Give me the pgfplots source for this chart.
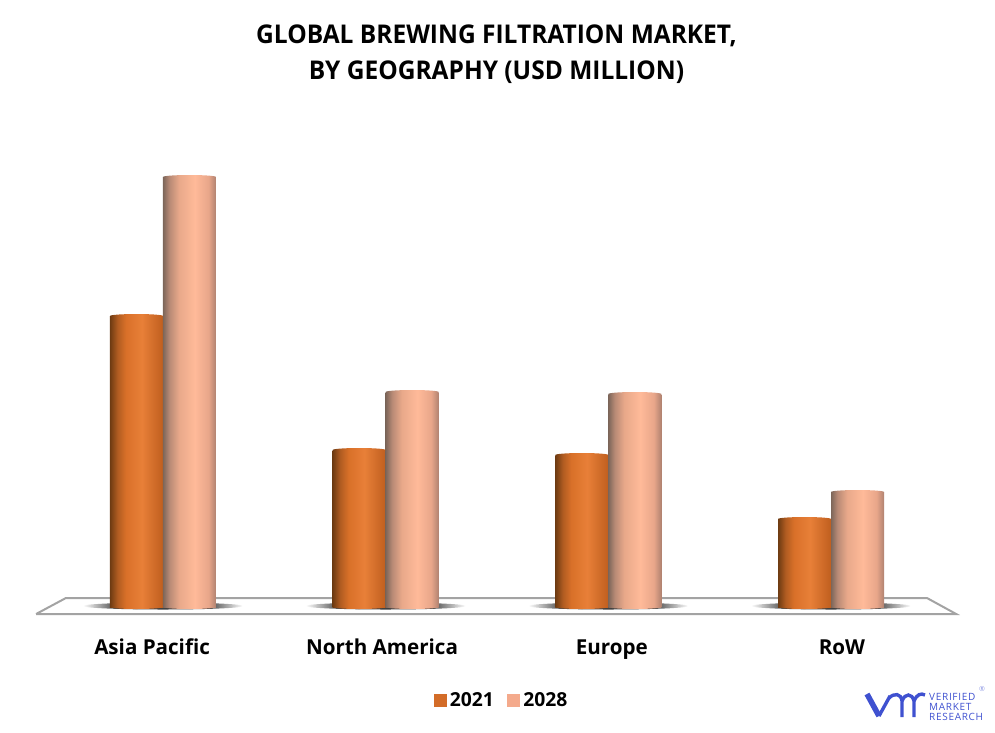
\documentclass[border=0pt]{standalone}
\usepackage{fontspec}
\setmainfont{Open Sans}
\newfontfamily\titlefont{Open Sans}[FakeStretch=0.95]
\newfontfamily\logofont{Open Sans}[LetterSpace=7]
\usepackage{pgfplots}
\usepackage{pgfplotstable}
\pgfplotsset{compat=1.18}

\definecolor{vmrblue}{RGB}{63,81,208}
\definecolor{c2021}{RGB}{211,108,40}
\definecolor{c2028}{RGB}{244,170,140}
\pgfdeclarehorizontalshading{barorange}{100bp}{
  rgb(0bp)=(0.43,0.23,0.07);
  rgb(25bp)=(0.43,0.23,0.07);
  rgb(32bp)=(0.69,0.36,0.13);
  rgb(40bp)=(0.85,0.44,0.16);
  rgb(55bp)=(0.91,0.50,0.22);
  rgb(75bp)=(0.75,0.37,0.12);
  rgb(100bp)=(0.75,0.37,0.12)}
\pgfdeclarehorizontalshading{barpeach}{100bp}{
  rgb(0bp)=(0.49,0.40,0.35);
  rgb(25bp)=(0.49,0.40,0.35);
  rgb(31bp)=(0.72,0.54,0.46);
  rgb(40bp)=(0.91,0.66,0.54);
  rgb(55bp)=(1.00,0.73,0.60);
  rgb(68bp)=(0.91,0.65,0.54);
  rgb(75bp)=(0.69,0.51,0.44);
  rgb(100bp)=(0.69,0.51,0.44)}
\pgfdeclarehorizontalshading{floorshadow}{100bp}{
  color(0bp)=(white);
  color(25bp)=(white);
  color(36bp)=(black!75);
  color(64bp)=(black!75);
  color(75bp)=(white);
  color(100bp)=(white)}

% rounded caps for the cylinders
\pgfdeclareplotmark{caporange}{\path[draw=none, shading=barorange] (-26.5pt,0pt) ellipse (26.5pt and 2pt);}
\pgfdeclareplotmark{cappeach}{\path[draw=none, shading=barpeach] (26.5pt,0pt) ellipse (26.5pt and 2pt);}

\pgfplotstableread{
x    y2021 y2028 base
0    291   430   0
1    157   215   0
2    152   213   0
3    88    115   0
}\bars

\pgfplotsset{
  orangebar/.style={forget plot, ybar, bar width=53pt, bar shift=-26.5pt, draw=none, shading=barorange},
  peachbar/.style={forget plot, ybar, bar width=53pt, bar shift=26.5pt, draw=none, shading=barpeach},
  capstyle/.style={forget plot, only marks, draw=none, mark options={draw=none, line width=0pt}},
}

\begin{document}
\begin{tikzpicture}
\useasboundingbox (0,-125pt) rectangle (995pt,607pt);
\begin{axis}[
    at={(0,0)}, anchor=south west,
    scale only axis,
    width=995pt, height=607pt,
    xmin=-0.732, xmax=3.7365,
    ymin=0, ymax=607,
    clip=false,
    axis line style={draw=none},
    major tick length=0pt,
    ytick=\empty,
    xtick={-0.049,0.9835,2.016,3.049},
    xticklabels={Asia Pacific,North America,Europe,RoW},
    xticklabel style={font=\fontsize{20.6}{24}\selectfont\bfseries, anchor=base, yshift=-47pt},
    title={GLOBAL BREWING FILTRATION MARKET,\\BY GEOGRAPHY (USD MILLION)},
    title style={at={(rel axis cs:0.4990,0.9015)}, anchor=center, align=center,
      font=\titlefont\fontsize{25.8}{36}\selectfont\bfseries},
    legend style={at={(rel axis cs:0.504,-0.154)}, anchor=center, draw=none, fill=none,
      legend columns=2, font=\fontsize{19.3}{22}\selectfont\bfseries,
      /tikz/every odd column/.append style={column sep=2pt},
      /tikz/every even column/.append style={column sep=11pt}},
]
% floor
\addplot[forget plot, sharp plot, no marks, draw=black!36, line width=2pt, line join=miter]
  coordinates {(-0.570,-7) (-0.436,9) (3.431,9) (3.562,-7) (-0.570,-7)};
% soft shadows under each group
\pgfplotsinvokeforeach{0,1,2,3}{
  \path[shading=floorshadow] (axis cs:#1,1) ellipse [x radius=80pt, y radius=3.5pt];
}
% one plot per bar, so that each bar gets its own cylinder shading
\addplot[orangebar] coordinates {(0,291)};
\addplot[peachbar]  coordinates {(0,430)};
\addplot[orangebar] coordinates {(1,157)};
\addplot[peachbar]  coordinates {(1,215)};
\addplot[orangebar] coordinates {(2,152)};
\addplot[peachbar]  coordinates {(2,213)};
\addplot[orangebar] coordinates {(3,88)};
\addplot[peachbar]  coordinates {(3,115)};
% caps
\addplot[capstyle, mark=caporange] table[x=x,y=base] {\bars};
\addplot[capstyle, mark=cappeach]  table[x=x,y=base] {\bars};
\addplot[capstyle, mark=caporange] table[x=x,y=y2021] {\bars};
\addplot[capstyle, mark=cappeach]  table[x=x,y=y2028] {\bars};
% legend
\addlegendimage{area legend, legend image code/.code={\fill[c2021] (0pt,-6pt) rectangle (12pt,6pt);}}
\addlegendentry{2021}
\addlegendimage{area legend, legend image code/.code={\fill[c2028] (0pt,-6pt) rectangle (12pt,6pt);}}
\addlegendentry{2028}
\end{axis}
% logo
\begin{scope}[vmrblue]
  \draw[line width=5.5pt, line join=round] (867pt,-87pt) -- (879pt,-109pt);
  \draw[line width=3.4pt, line join=round] (879pt,-109pt) -- (890pt,-89pt);
  \draw[line width=3.4pt] (889pt,-91pt) .. controls (894pt,-86pt) and (901pt,-86pt) .. (902pt,-94pt) -- (902pt,-110pt);
  \draw[line width=3.4pt] (902pt,-94pt) .. controls (905pt,-86pt) and (912pt,-86pt) .. (914pt,-94pt) -- (914pt,-110pt);
  \draw[line width=3.4pt] (914pt,-94pt) .. controls (917pt,-87pt) and (921pt,-86pt) .. (925pt,-88pt);
  \node[anchor=west, align=left, font=\logofont\fontsize{10}{10}\selectfont, inner sep=0pt] at (929pt,-100pt) {VERIFIED\\MARKET\\RESEARCH};
  \node[font=\fontsize{7}{7}\selectfont, text=vmrblue!60, inner sep=0pt] at (982pt,-82pt) {\textregistered};
\end{scope}
\end{tikzpicture}
\end{document}
